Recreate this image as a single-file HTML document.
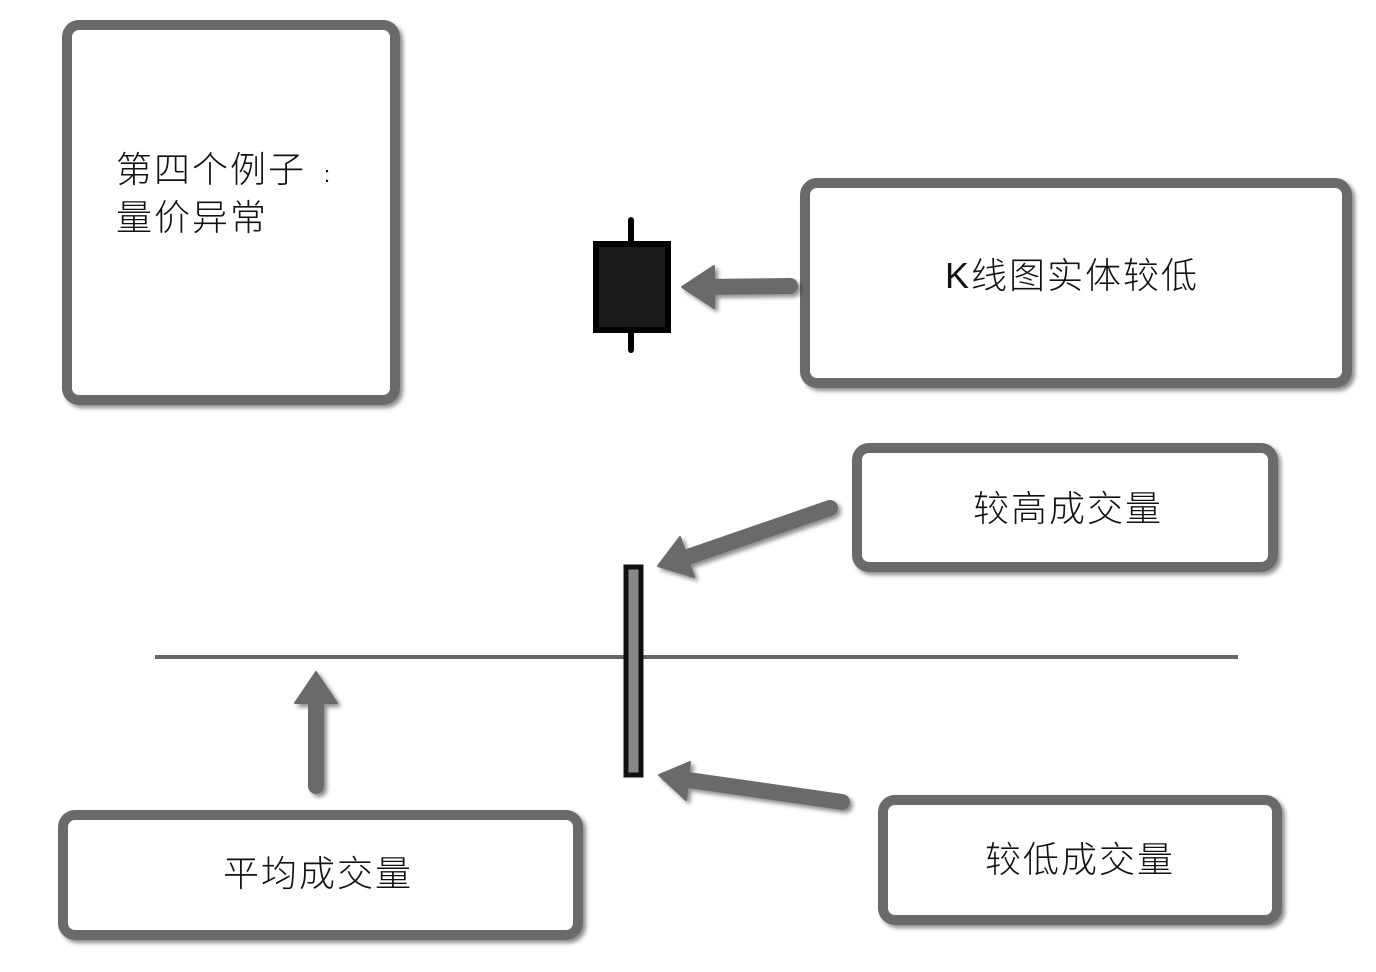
<!DOCTYPE html>
<html><head><meta charset="utf-8">
<style>
html,body{margin:0;padding:0;background:#fff;}
svg{display:block;}
text{font-family:"Liberation Sans","Noto Sans CJK SC",sans-serif;fill:#111;font-weight:300;letter-spacing:2px;}
</style></head>
<body>
<svg width="1376" height="972" viewBox="0 0 1376 972" xmlns="http://www.w3.org/2000/svg">
<defs>
<filter id="sh" x="-10%" y="-10%" width="130%" height="130%">
<feDropShadow dx="3" dy="3" stdDeviation="2" flood-color="#000" flood-opacity="0.45"/>
</filter>
</defs>
<g fill="#fff" stroke="#6b6b6b" stroke-width="10" filter="url(#sh)">
<rect x="67" y="25" width="328" height="375" rx="12"/>
<rect x="805" y="183" width="542" height="200" rx="12"/>
<rect x="857" y="448" width="416" height="119" rx="12"/>
<rect x="63" y="815" width="515" height="120" rx="12"/>
<rect x="883" y="800" width="394" height="120" rx="12"/>
</g>
<text x="116" y="182" font-size="36">第四个例子</text>
<text x="324" y="182" font-size="22">:</text>
<text x="116" y="230" font-size="36">量价异常</text>
<text x="1072" y="288" font-size="36" text-anchor="middle">K线图实体较低</text>
<text x="1068" y="521" font-size="36" text-anchor="middle">较高成交量</text>
<text x="318" y="886" font-size="36" text-anchor="middle">平均成交量</text>
<text x="1080" y="872" font-size="36" text-anchor="middle">较低成交量</text>
<line x1="631" y1="220" x2="631" y2="350" stroke="#000" stroke-width="6" stroke-linecap="round"/>
<rect x="596" y="244" width="72" height="86" fill="#1a1a1a" stroke="#000" stroke-width="6"/>
<line x1="155" y1="657" x2="1238" y2="657" stroke="#666" stroke-width="4"/>
<rect x="626" y="567" width="15" height="208" fill="#888" stroke="#111" stroke-width="5"/>
<g fill="#6b6b6b" stroke="#6b6b6b" filter="url(#sh)">
<line x1="790" y1="286" x2="705" y2="287" stroke-width="16" stroke-linecap="round"/>
<polygon points="682,287 714,266 714,308" stroke-width="2" stroke-linejoin="round"/>
<line x1="830" y1="508" x2="685" y2="558" stroke-width="16" stroke-linecap="round"/>
<polygon points="658,566 680,537 694,577" stroke-width="2" stroke-linejoin="round"/>
<line x1="842" y1="802" x2="688" y2="780" stroke-width="16" stroke-linecap="round"/>
<polygon points="659,775 690,762 686,800" stroke-width="2" stroke-linejoin="round"/>
<line x1="316" y1="786" x2="316" y2="698" stroke-width="16" stroke-linecap="round"/>
<polygon points="316,672 295,703 337,703" stroke-width="2" stroke-linejoin="round"/>
</g>
</svg>
</body></html>
